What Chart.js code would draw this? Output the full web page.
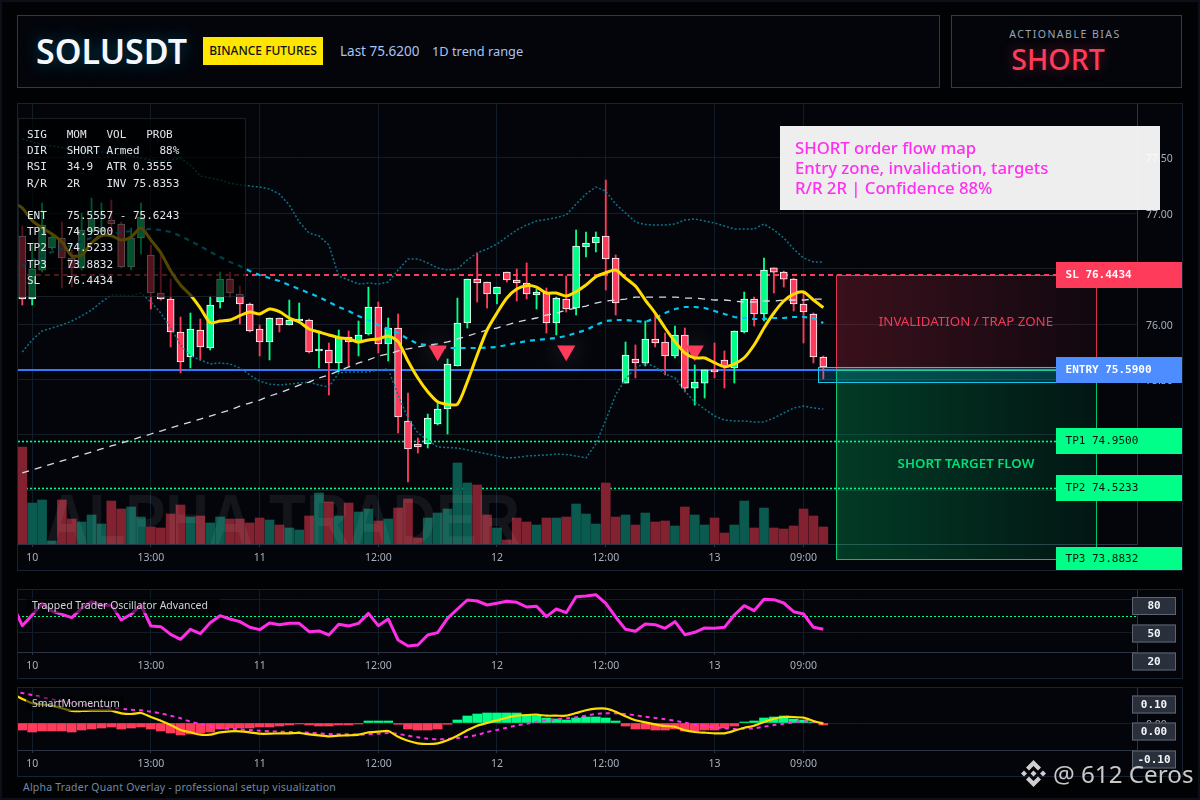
<!DOCTYPE html>
<html><head><meta charset="utf-8">
<style>
html,body{margin:0;padding:0;width:1200px;height:800px;overflow:hidden;background:#010204;}
body{position:relative;font-family:"Noto Sans",sans-serif;}
.frame{position:absolute;left:0;top:0;width:1196px;height:796px;border:2px solid #0a0f18;}
.panel{position:absolute;box-sizing:border-box;background:#03050b;}
canvas{position:absolute;display:block;}
.abs{position:absolute;white-space:pre;}
.mono{font-family:"DejaVu Sans Mono",monospace;}
</style>
<script src="https://cdn.jsdelivr.net/npm/chart.js@4"></script>
</head><body>
<div class="frame"></div>
<div class="panel" style="left:17px;top:15px;width:923px;height:73px;border:1px solid #0e4656;"></div>
<div class="panel" style="left:951px;top:15px;width:231px;height:73px;border:1px solid #651a70;"></div>
<div class="abs" style="left:36px;top:25px;font-size:34px;line-height:52px;font-weight:600;color:#f4f8fc;text-shadow:0 0 16px rgba(0,200,255,.35);">SOLUSDT</div>
<div class="abs" style="left:203px;top:37px;width:120px;height:28px;background:#ffe600;color:#111;font-size:12px;font-weight:500;line-height:27px;text-align:center;">BINANCE FUTURES</div>
<div class="abs" style="left:340px;top:41px;font-size:13.5px;line-height:20px;color:#a9c3f2;">Last 75.6200</div>
<div class="abs" style="left:432px;top:41px;font-size:12.8px;line-height:20px;color:#a9c3f2;">1D trend range</div>
<div class="abs" style="left:951px;top:26px;width:228px;text-align:center;font-size:10.5px;line-height:16px;letter-spacing:1.5px;color:#9aa5b6;">ACTIONABLE BIAS</div>
<div class="abs" style="left:951px;top:38px;width:214px;text-align:center;font-size:28.5px;line-height:42px;font-weight:500;color:#ff3b5c;text-shadow:0 0 14px rgba(255,59,92,.45);">SHORT</div>

<div class="panel" style="left:17px;top:103px;width:1166px;height:468px;border:1px solid #182230;"></div>
<div class="panel" style="left:17px;top:589px;width:1166px;height:90px;border:1px solid #182230;"></div>
<div class="panel" style="left:17px;top:687px;width:1166px;height:90px;border:1px solid #182230;"></div>

<canvas id="mainChart" width="1166" height="467" style="left:17px;top:103px;"></canvas>
<canvas id="oscChart" width="1166" height="90" style="left:17px;top:589px;"></canvas>
<canvas id="momChart" width="1166" height="90" style="left:17px;top:687px;"></canvas>

<div class="abs mono" style="left:18px;top:118px;width:228px;height:179px;box-sizing:border-box;background:rgba(0,0,0,.68);border:1px solid rgba(45,55,65,.55);"></div>
<div class="abs mono" style="left:27px;top:127px;font-size:11px;line-height:16.2px;color:#e2e6ec;">SIG   MOM   VOL   PROB
DIR   SHORT Armed   88%
RSI   34.9  ATR 0.3555
R/R   2R    INV 75.8353

ENT   75.5557 - 75.6243
TP1   74.9500
TP2   74.5233
TP3   73.8832
SL    76.4434</div>

<div class="abs" style="left:780px;top:126px;width:380px;height:84px;background:rgba(255,255,255,.935);"></div>
<div class="abs" style="left:795px;top:137.5px;font-size:16.7px;font-weight:500;line-height:20.3px;color:#ff2ef0;">SHORT order flow map
Entry zone, invalidation, targets
R/R 2R | Confidence 88%</div>

<div class="abs" style="left:26px;top:598px;width:194px;height:15px;background:rgba(0,0,0,.55);"></div>
<div class="abs" style="left:32px;top:597px;font-size:10.5px;line-height:17px;color:#cfd3da;">Trapped Trader Oscillator Advanced</div>
<div class="abs" style="left:26px;top:696px;width:98px;height:15px;background:rgba(0,0,0,.55);"></div>
<div class="abs" style="left:32px;top:695px;font-size:10.5px;line-height:17px;color:#cfd3da;">SmartMomentum</div>
<div class="abs" style="left:23px;top:779px;font-size:10.5px;line-height:16px;letter-spacing:.2px;color:#7488a0;">Alpha Trader Quant Overlay - professional setup visualization</div>

<svg class="abs" style="left:1020px;top:760px;" width="27" height="27" viewBox="0 0 27 27">
<g fill="#cfcfcf"><polygon points="13.5,0 21,7.5 18,10.5 13.5,6 9,10.5 6,7.5"/><polygon points="13.5,27 21,19.5 18,16.5 13.5,21 9,16.5 6,19.5"/><polygon points="13.5,10.5 16.5,13.5 13.5,16.5 10.5,13.5"/><polygon points="4,10.5 7,13.5 4,16.5 1,13.5"/><polygon points="23,10.5 26,13.5 23,16.5 20,13.5"/></g></svg>
<div class="abs" style="left:1053px;top:756px;font-size:24.2px;line-height:36px;color:#c9c9c9;">@ 612 Ceros</div>

<script>
// ---------- data ----------
const tickIndex = [1, 13, 24, 36, 48, 59, 70, 79];
const tickLabels = ['10', '13:00', '11', '12:00', '12', '12:00', '13', '09:00'];
const priceTicks = [74.5, 75, 75.5, 76, 76.5, 77, 77.5];
const oscTicks = [0, 10];
const momTicks = [0];

const openV = [76.793,76.225,76.486,76.685,76.775,76.595,76.505,76.829,76.829,76.937,76.901,76.514,76.775,76.622,76.279,76.225,75.928,75.703,75.946,75.784,76.198,76.405,76.27,76.18,75.955,75.838,76.054,75.991,76.027,76.036,75.757,75.766,75.649,75.883,75.829,75.91,76.153,75.82,75.964,75.126,74.919,74.919,75.099,75.234,75.622,76.009,76.405,76.378,76.27,76.468,76.396,76.369,76.261,76.279,76.009,76.225,76.144,76.694,76.73,76.793,76.595,75.468,75.685,75.649,75.865,75.838,75.712,75.901,75.423,75.468,75.586,75.676,75.604,75.928,76.225,76.09,76.505,76.468,76.405,76.18,76.09,75.703];
const highV = [76.883,76.712,77.09,76.802,76.919,76.667,77.0,77.135,77.09,77.117,76.919,76.865,77.09,76.712,76.649,76.405,76.063,76.099,76.045,76.252,76.468,76.468,76.342,76.189,75.991,76.054,76.054,76.216,76.189,76.045,75.919,75.829,75.946,75.937,76.027,76.333,76.198,76.054,76.09,75.378,74.973,75.189,75.288,75.685,76.234,76.405,76.64,76.378,76.333,76.468,76.495,76.55,76.315,76.324,76.243,76.432,76.847,76.829,76.829,77.297,76.622,75.838,75.811,76.027,76.081,75.919,75.982,75.964,75.631,75.586,75.829,75.757,75.937,76.288,76.243,76.595,76.505,76.477,76.414,76.288,76.099,75.712];
const lowV = [76.171,76.171,76.468,76.667,76.324,76.333,76.486,76.802,76.793,76.793,76.505,76.486,76.631,76.135,76.216,75.793,75.559,75.604,75.676,75.766,76.144,76.243,76.0,75.928,75.712,75.676,75.928,75.991,76.027,75.739,75.604,75.36,75.568,75.622,75.712,75.901,75.739,75.667,75.018,74.577,74.838,74.883,75.09,75.009,75.622,75.964,76.198,76.144,76.18,76.378,76.207,76.225,76.135,75.919,75.901,76.108,76.081,76.604,76.649,76.306,76.081,75.468,75.514,75.622,75.793,75.541,75.694,75.387,75.27,75.333,75.514,75.423,75.468,75.919,75.982,76.027,76.279,76.333,76.117,75.829,75.649,75.505];
const closeV = [76.225,76.495,76.892,76.784,76.595,76.505,76.847,76.955,76.865,76.901,76.514,76.775,76.964,76.279,76.225,75.928,75.658,75.955,75.793,76.171,76.405,76.279,76.18,75.937,75.838,76.054,75.991,76.036,76.036,75.748,75.766,75.649,75.883,75.838,75.901,76.153,75.82,75.964,75.162,74.874,74.892,75.153,75.234,75.64,76.009,76.405,76.369,76.27,76.333,76.396,76.369,76.27,76.288,76.009,76.234,76.135,76.703,76.73,76.784,76.586,76.189,75.721,75.649,75.865,75.829,75.712,75.901,75.423,75.477,75.586,75.568,75.613,75.937,76.225,76.09,76.486,76.468,76.405,76.18,76.108,75.703,75.613];
const volumeV = [97,41,44,3,44,25,22,29,20,43,35,37,27,17,16,30,39,27,28,21,27,25,25,21,26,24,19,16,14,28,51,42,28,41,32,35,23,25,36,45,6,26,31,35,81,61,59,29,16,4,26,22,19,26,26,27,40,30,20,61,27,29,19,31,22,23,18,37,29,19,26,11,19,43,16,36,16,15,18,35,28,17];
// first entry of the next three sits one bar before the first candle
const fastLine = [77.099,77.045,76.931,76.865,76.811,76.741,76.615,76.622,76.73,76.795,76.795,76.757,76.784,76.865,76.757,76.642,76.48,76.351,76.261,76.144,76.012,76.027,76.036,76.075,76.108,76.09,76.135,76.111,76.054,76.018,75.955,75.928,75.901,75.877,75.865,75.838,75.856,75.865,75.892,75.841,75.667,75.514,75.39,75.3,75.277,75.277,75.48,75.721,75.946,76.099,76.234,76.315,76.345,76.333,76.279,76.279,76.252,76.291,76.351,76.426,76.462,76.486,76.414,76.342,76.216,76.099,75.964,75.841,75.739,75.694,75.694,75.651,75.615,75.64,75.696,75.811,75.964,76.099,76.207,76.27,76.288,76.216,76.147];
const midLine = [76.523,76.577,76.613,76.649,76.676,76.712,76.748,76.775,76.793,76.811,76.824,76.838,76.847,76.856,76.847,76.829,76.793,76.748,76.703,76.649,76.604,76.559,76.523,76.477,76.441,76.414,76.387,76.351,76.315,76.279,76.243,76.198,76.153,76.117,76.072,76.036,75.991,75.955,75.919,75.865,75.82,75.811,75.793,75.784,75.784,75.784,75.784,75.788,75.793,75.811,75.829,75.847,75.856,75.865,75.874,75.892,75.919,75.946,75.991,76.027,76.036,76.036,76.027,76.018,76.054,76.099,76.135,76.153,76.153,76.144,76.117,76.09,76.063,76.054,76.045,76.045,76.054,76.054,76.063,76.063,76.054,76.009];
const slowLine = [74.658,74.685,74.712,74.739,74.766,74.793,74.82,74.847,74.874,74.901,74.928,74.955,74.982,75.009,75.036,75.063,75.09,75.117,75.144,75.171,75.198,75.225,75.261,75.288,75.315,75.351,75.378,75.414,75.45,75.477,75.514,75.541,75.577,75.613,75.649,75.676,75.712,75.73,75.757,75.775,75.793,75.811,75.82,75.838,75.865,75.892,75.919,75.946,75.964,75.991,76.018,76.036,76.054,76.081,76.099,76.126,76.144,76.162,76.189,76.207,76.216,76.225,76.243,76.243,76.243,76.243,76.243,76.234,76.234,76.225,76.216,76.216,76.207,76.198,76.198,76.207,76.207,76.216,76.216,76.216,76.225,76.225];
const upperBand = [77.667,77.64,77.613,77.604,77.59,77.577,77.568,77.559,77.55,77.541,77.523,77.514,77.495,77.477,77.468,77.477,77.495,77.432,77.333,77.315,77.297,77.27,77.252,77.243,77.234,77.216,77.171,77.072,76.919,76.82,76.793,76.712,76.432,76.396,76.36,76.369,76.36,76.378,76.486,76.586,76.586,76.55,76.505,76.486,76.495,76.577,76.64,76.676,76.721,76.784,76.847,76.892,76.928,76.941,76.959,76.982,77.081,77.171,77.234,77.198,77.081,77.0,76.919,76.896,76.892,76.892,76.901,76.937,76.946,76.928,76.91,76.883,76.856,76.856,76.856,76.901,76.847,76.775,76.676,76.595,76.559,76.559];
const lowerBand = [75.748,75.856,75.937,75.964,75.991,76.027,76.072,76.126,76.198,76.261,76.261,76.252,76.279,76.198,76.099,75.964,75.811,75.712,75.676,75.64,75.649,75.64,75.604,75.541,75.486,75.459,75.45,75.459,75.468,75.477,75.45,75.432,75.559,75.568,75.568,75.568,75.586,75.595,75.36,75.153,75.018,74.955,74.892,74.887,74.883,74.865,74.847,74.829,74.811,74.793,74.797,74.811,74.815,74.82,74.829,74.824,74.811,74.793,74.919,75.135,75.36,75.505,75.604,75.649,75.613,75.55,75.514,75.396,75.297,75.234,75.171,75.135,75.126,75.126,75.117,75.117,75.153,75.198,75.243,75.261,75.243,75.234];
const signalIndex = [42, 55, 68];
const signalPrice = [75.76, 75.76, 75.76];

const levelSL = 76.4434, levelEntry = 75.59, levelTP1 = 74.95, levelTP2 = 74.5233, levelTP3 = 73.8832;
const entryTop = 75.614, entryBottom = 75.482;
const zoneFromIndex = 82.28, zoneToIndex = 108.57, entryFromIndex = 80.47, tagFromIndex = 104.53, tagToIndex = 117.27;

const oscLine = [8.69,2.22,5.45,8.99,6.67,5.66,4.65,7.47,9.49,8.28,8.48,3.94,5.66,8.48,2.12,1.92,-0.4,-1.92,1.11,-0.2,3.13,5.25,4.24,3.43,1.72,1.01,3.03,2.53,2.93,2.93,0.4,0.61,-0.61,2.63,2.12,2.93,5.96,2.22,4.24,-2.12,-3.94,-3.64,-0.61,0.1,4.44,7.27,10.0,9.7,8.48,8.99,9.6,9.29,7.88,8.08,4.95,7.27,6.16,11.01,11.21,11.62,8.99,4.85,1.11,0.51,2.73,2.53,1.41,3.43,-0.51,0.2,1.52,1.41,1.72,5.45,8.28,6.77,10.2,10.1,9.09,6.46,5.76,1.72,1.11];
const oscThreshold = 5;
const oscTags = [['80', 606], ['50', 633.5], ['20', 661.5]];

// momentum values in thousandths
const momHist = [-7,-9,-8,-8,-8,-9,-7,-6,-5,-4,-6,-5,-4,-6,-8,-10,-12,-11,-10,-9,-6,-5,-5,-5,-4,-4,-3,-2,-1,-2,-3,-3,-2,-2,-1,2,2,2,-1.3,-6,-7,-7,-6,-1.3,3,7,9,10,10,10,10,8,7,5,4,3,5,6,6,5,2,-3,-6,-6,-7,-7,-6,-8,-8,-7,-7,-5,-3,1,2,5,6,7,4,3,1,-2];
const momFast = [29,24,19.7,18.7,17.3,14.7,12,12,12.3,12.3,12.3,9.7,9,10,6,2.3,-2,-7,-9.3,-11.7,-11.7,-9.3,-8.3,-8.3,-9.3,-10.7,-10.7,-10.3,-10.3,-10,-11.3,-12.3,-13.3,-12.7,-12.3,-11.7,-9.3,-8.7,-8,-13.7,-17.7,-20.3,-21,-20.3,-17.3,-12.7,-7.3,-2.7,0,2.7,5.3,7.3,8,8.3,7.3,7.3,7.3,10,12.7,14.3,14.3,11.3,6.7,2.7,0.7,-1.3,-3,-3.7,-7.3,-9,-9.7,-10.3,-10.3,-7.7,-4.7,-2.7,1,4.3,6,6,5.3,2,-0.7];
const momSlow = [30.7,30,28,25.7,23.7,21.7,20,18.7,17.7,16.3,15.3,14.3,13.3,12.7,11.3,9.7,7.3,4.7,1.3,-1,-3.3,-5,-5.7,-6.3,-7,-7.7,-8.3,-8.7,-9,-9.3,-9.7,-10.3,-11,-11.3,-11.3,-11.7,-11.3,-10.7,-10,-11,-12.7,-14.3,-15.7,-16.3,-16,-15,-13.7,-12,-9,-7,-4.7,-2.3,-0.7,1.3,2.7,3.7,4.7,5.7,7.3,9,9.7,9.7,9,7.7,6.3,5,3.7,2.3,0.3,-1.7,-3,-4.3,-5.3,-6,-5.7,-5.3,-3.7,-2,-0.7,0.7,1.7,1.3,0];
const momTags = [['0.10', 704.5], ['0.00', 731.5], ['-0.10', 759.5]];

// ---------- styling ----------
const UP = '#00ff88', DOWN = '#ff3b5c';
const AXIS_FONT = {family:'"Noto Sans",sans-serif', size:10.5};
const TICK = '#a9b0bb';
const GRID_H = '#161c24', GRID_V = '#0e1d27', AXIS = '#2c3442';
const XMIN = -0.435, XMAX = 112.72;

const withIndex = (arr, shift) => arr.map((y, i) => ({x: i + shift, y}));
const noPad = s => { s.paddingTop = 0; s.paddingBottom = 0; s.paddingLeft = 0; s.paddingRight = 0; };
const xScale = (h) => ({
  type:'linear', min:XMIN, max:XMAX, offset:false,
  afterBuildTicks: s => { s.ticks = tickIndex.map(value => ({value})); },
  afterFit: s => { s.height = h; noPad(s); },
  grid:{color:GRID_V, tickColor:AXIS, tickLength:3, drawTicks:true, offset:false},
  border:{color:AXIS},
  ticks:{color:TICK, font:AXIS_FONT, maxRotation:0, autoSkip:false, padding:5,
         callback: v => tickLabels[tickIndex.indexOf(v)]}
});
const yScale = (min, max, list, fmt) => ({
  position:'right', min, max,
  afterBuildTicks: s => { s.ticks = list.map(value => ({value})); },
  afterFit: s => { s.width = 46; noPad(s); },
  grid:{color:GRID_H, drawTicks:false},
  border:{color:AXIS},
  ticks:{color:TICK, font:AXIS_FONT, padding:9, labelOffset:2, autoSkip:false, callback:fmt}
});
const base = {
  responsive:false, animation:false, devicePixelRatio:1, events:[],
  plugins:{legend:{display:false}, tooltip:{enabled:false}},
  layout:{autoPadding:false, padding:{left:1, top:1, right:0, bottom:0}}
};

function tagBoxes(list) {
  return { id:'tagBoxes', afterDraw(chart) {
    const ctx = chart.ctx; const top = chart.canvas.offsetTop;
    ctx.save();
    list.forEach(([t, cy]) => {
      const y = cy - top;
      ctx.fillStyle = '#2a303b'; ctx.strokeStyle = '#5c6472'; ctx.lineWidth = 1;
      ctx.fillRect(1115, y - 9, 44, 18); ctx.strokeRect(1115.5, y - 8.5, 43, 17);
      ctx.fillStyle = '#f2f5f8'; ctx.font = 'bold 11px "DejaVu Sans Mono",monospace';
      ctx.textAlign = 'center'; ctx.textBaseline = 'middle';
      ctx.fillText(t, 1137, y + .5);
    });
    ctx.restore();
  }};
}

const levelLines = { id:'levelLines', beforeDatasetsDraw(chart) {
  const {ctx, scales:{x, y}, chartArea:a} = chart;
  const xe = x.getPixelForValue(tagFromIndex);
  const draw = (v, col, w, dash) => {
    const py = Math.round(y.getPixelForValue(v)) + (w === 2 ? 0 : .5);
    ctx.save(); ctx.strokeStyle = col; ctx.lineWidth = w; ctx.setLineDash(dash);
    ctx.beginPath(); ctx.moveTo(a.left, py); ctx.lineTo(xe, py); ctx.stroke(); ctx.restore();
  };
  draw(levelSL, DOWN, 2, [5, 4]);
  draw(levelEntry, '#2f7bff', 2, []);
  draw(levelTP1, '#00ff80', 1.6, [2, 2]);
  draw(levelTP2, '#00ff80', 1.6, [2, 2]);
}};

const zones = { id:'zones', afterDatasetsDraw(chart) {
  const {ctx, scales:{x, y}} = chart;
  const zl = x.getPixelForValue(zoneFromIndex), zr = x.getPixelForValue(zoneToIndex);
  const yS = y.getPixelForValue(levelSL), yE = y.getPixelForValue(levelEntry), yT = y.getPixelForValue(levelTP3);
  const tagL = x.getPixelForValue(tagFromIndex), tagR = x.getPixelForValue(tagToIndex);
  ctx.save();
  let g = ctx.createLinearGradient(zl, 0, zr, 0);
  g.addColorStop(0, 'rgba(255,59,92,.22)'); g.addColorStop(1, 'rgba(255,59,92,.06)');
  ctx.fillStyle = g; ctx.fillRect(zl, yS, zr - zl, yE - yS);
  g = ctx.createLinearGradient(zl, 0, zr, 0);
  g.addColorStop(0, 'rgba(0,255,136,.22)'); g.addColorStop(1, 'rgba(0,255,136,.07)');
  ctx.fillStyle = g; ctx.fillRect(zl, yE, zr - zl, yT - yE);
  ctx.lineWidth = 1;
  ctx.strokeStyle = 'rgba(255,59,92,.85)';
  ctx.strokeRect(Math.round(zl) + .5, Math.round(yS) + .5, Math.round(zr - zl), Math.round(yE - yS));
  ctx.strokeStyle = 'rgba(0,240,140,.8)';
  ctx.strokeRect(Math.round(zl) + .5, Math.round(yE) + .5, Math.round(zr - zl), Math.round(yT - yE));
  // entry box
  const bl = x.getPixelForValue(entryFromIndex), bt = y.getPixelForValue(entryTop), bb = y.getPixelForValue(entryBottom);
  ctx.fillStyle = 'rgba(0,190,255,.2)'; ctx.fillRect(bl, bt, tagL - bl, bb - bt);
  ctx.strokeStyle = '#17c5e6';
  ctx.strokeRect(Math.round(bl) + .5, Math.round(bt) + .5, Math.round(tagL - bl), Math.round(bb - bt));
  // zone captions
  ctx.textAlign = 'center'; ctx.textBaseline = 'middle';
  ctx.font = '13.3px "Noto Sans",sans-serif'; ctx.fillStyle = 'rgba(255,59,92,.95)';
  const cx = (zl + zr) / 2;
  ctx.fillText('INVALIDATION / TRAP ZONE', cx, (yS + yE) / 2);
  ctx.font = '600 13.3px "Noto Sans",sans-serif'; ctx.fillStyle = '#00e07a';
  ctx.fillText('SHORT TARGET FLOW', cx, 361);
  // price tags
  const tag = (text, v, bg, fg, dy) => {
    const py = y.getPixelForValue(v);
    const top = Math.round(py) - 13;
    ctx.fillStyle = bg; ctx.fillRect(tagL, top + (dy || 0), tagR - tagL, 26 - (dy ? Math.abs(dy) : 0));
    ctx.fillStyle = fg; ctx.textAlign = 'left';
    ctx.font = (fg === '#fff' ? 'bold ' : '') + '11px "DejaVu Sans Mono",monospace';
    ctx.fillText(text, tagL + 9.5, py + .5);
  };
  tag('SL 76.4434', levelSL, DOWN, '#fff');
  tag('ENTRY 75.5900', levelEntry, '#4d8dff', '#fff');
  tag('TP1 74.9500', levelTP1, UP, '#06120c');
  tag('TP2 74.5233', levelTP2, UP, '#06120c');
  tag('TP3 73.8832', levelTP3, UP, '#06120c', 1);
  ctx.restore();
}};

const watermark = { id:'watermark', afterDatasetDraw(chart, args) {
  if (args.index !== 0) return;
  const {ctx, chartArea:a} = chart;
  ctx.save();
  ctx.beginPath(); ctx.rect(a.left, a.top, a.width, a.height); ctx.clip();
  ctx.font = 'bold 71px "Liberation Sans",sans-serif';
  ctx.fillStyle = 'rgba(255,255,255,.065)';
  ctx.textAlign = 'left'; ctx.textBaseline = 'alphabetic';
  ctx.fillText('ALPHA TRADER', 28, a.bottom - 0.5, 475);
  ctx.restore();
}};

const glow = { id:'glow',
  beforeDatasetDraw(chart, args) {
    if (chart.data.datasets[args.index].label === 'signals') {
      chart.ctx.save(); chart.ctx.shadowColor = 'rgba(255,255,255,.35)'; chart.ctx.shadowBlur = 26;
    }
  },
  afterDatasetDraw(chart, args) {
    if (chart.data.datasets[args.index].label === 'signals') chart.ctx.restore();
  }
};

const lineDs = (data, color, width, dash, order, tension) => ({
  type:'line', data, borderColor:color, borderWidth:width, borderDash:dash || [],
  pointRadius:0, tension:tension || 0, order, yAxisID:'y', fill:false
});
const rgbUp = i => closeV[i] >= openV[i];

new Chart(document.getElementById('mainChart'), {
  data:{datasets:[
    {type:'bar', label:'volume', yAxisID:'yVol', grouped:false, order:10, barThickness:9,
     data:withIndex(volumeV, 0),
     backgroundColor:volumeV.map((_, i) => rgbUp(i) ? '#0a5a4f' : '#822230')},
    {type:'bar', label:'wick', yAxisID:'y', grouped:false, order:9, barThickness:1.2,
     data:highV.map((h, i) => ({x:i, y:[lowV[i], h]})),
     backgroundColor:highV.map((_, i) => rgbUp(i) ? UP : DOWN)},
    {type:'bar', label:'body', yAxisID:'y', grouped:false, order:8, barThickness:7, minBarLength:2,
     data:openV.map((o, i) => ({x:i, y:[o, closeV[i]]})),
     backgroundColor:openV.map((_, i) => rgbUp(i) ? UP : DOWN),
     borderColor:'#ffffff', borderWidth:1, borderSkipped:false},
    lineDs(withIndex(upperBand, 0), '#0d7388', 1.5, [2, 2], 7),
    lineDs(withIndex(lowerBand, 0), '#0d7388', 1.5, [2, 2], 7),
    lineDs(withIndex(slowLine, 0), '#d8dce2', 1.3, [7, 6], 6),
    lineDs(withIndex(midLine, 0), '#00c8f0', 2.2, [5, 5], 5),
    {type:'scatter', label:'signals', yAxisID:'y', order:4, showLine:false,
     data:signalIndex.map((x, i) => ({x, y:signalPrice[i]})),
     pointStyle:'triangle', rotation:180, pointRadius:10.5,
     backgroundColor:DOWN, borderColor:DOWN, borderWidth:0},
    lineDs(withIndex(fastLine, -1), '#ffdd00', 3, [], 3, .25)
  ]},
  options:{...base,
    scales:{
      x:xScale(26),
      y:yScale(74.018, 77.982, priceTicks, v => v.toFixed(2)),
      yVol:{display:false, min:0, max:440}
    }},
  plugins:[levelLines, watermark, glow, zones]
});

const oscThresholdLine = { id:'oscThresholdLine', beforeDatasetsDraw(chart) {
  const {ctx, scales:{y}, chartArea:a} = chart;
  const py = Math.round(y.getPixelForValue(oscThreshold)) + .5;
  ctx.save(); ctx.strokeStyle = UP; ctx.lineWidth = 1; ctx.setLineDash([2, 2]);
  ctx.beginPath(); ctx.moveTo(a.left, py); ctx.lineTo(a.right, py); ctx.stroke(); ctx.restore();
}};

new Chart(document.getElementById('oscChart'), {
  data:{datasets:[{...lineDs(withIndex(oscLine, -1), '#ff2ee6', 3), borderJoinStyle:'round'}]},
  options:{...base, scales:{x:xScale(27), y:yScale(-5.76, 13.03, oscTicks, v => v.toFixed(2))}},
  plugins:[oscThresholdLine, tagBoxes(oscTags)]
});

new Chart(document.getElementById('momChart'), {
  data:{datasets:[
    {type:'bar', yAxisID:'y', grouped:false, order:5, barThickness:9,
     data:withIndex(momHist, 0),
     backgroundColor:momHist.map(v => v >= 0 ? UP : DOWN)},
    lineDs(withIndex(momSlow, -1), '#ff2ee6', 2, [4, 4], 3, .2),
    lineDs(withIndex(momFast, -1), '#ffdd00', 2.2, [], 2, .2)
  ]},
  options:{...base, scales:{x:xScale(27), y:yScale(-27, 35, momTicks, v => (v / 1000).toFixed(2))}},
  plugins:[tagBoxes(momTags)]
});
</script>
</body></html>
